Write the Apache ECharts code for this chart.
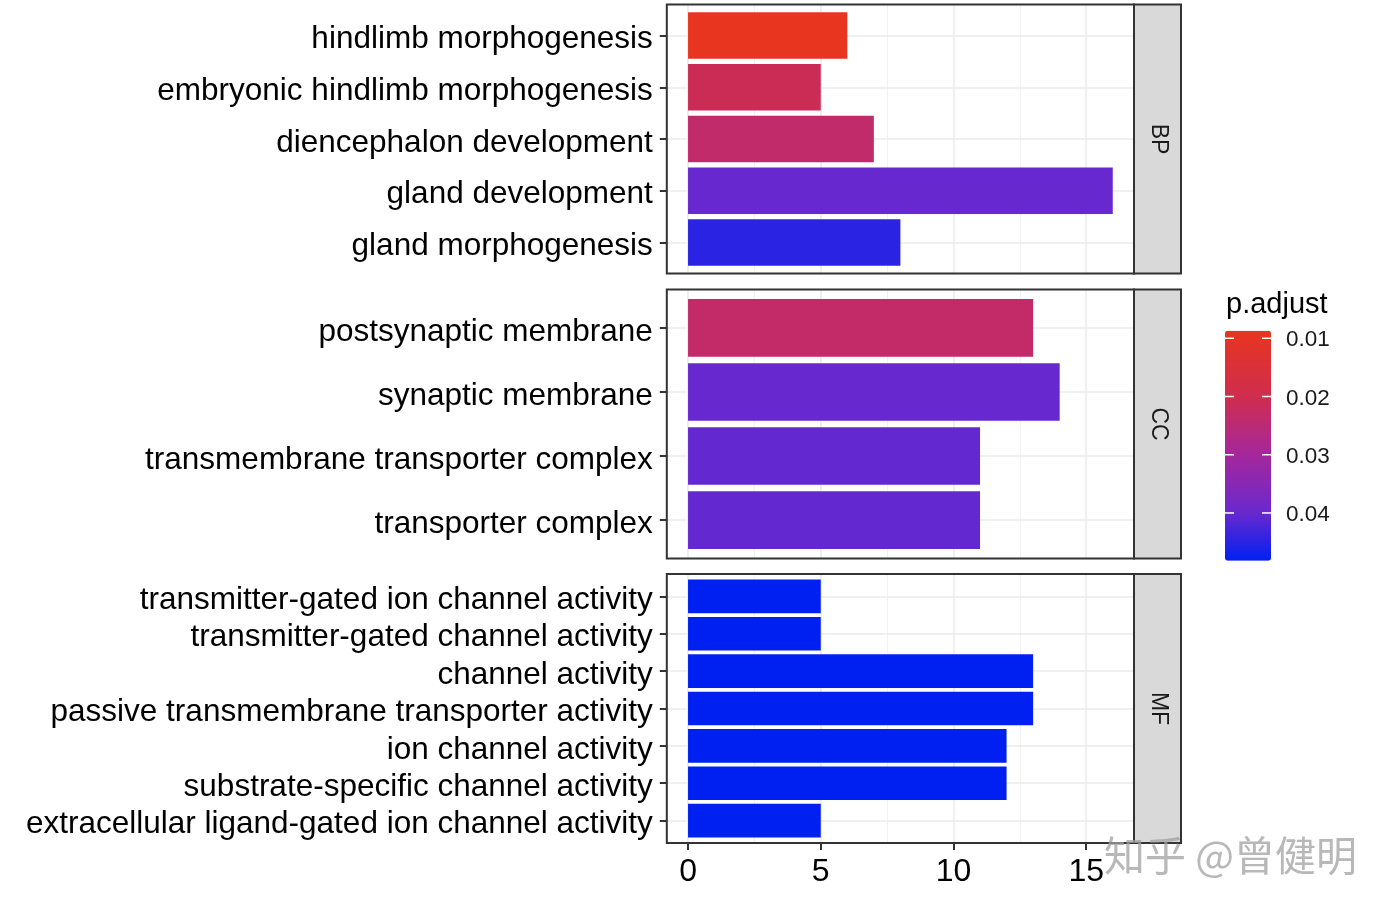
<!DOCTYPE html>
<html><head><meta charset="utf-8">
<script src="https://cdn.jsdelivr.net/npm/echarts@6/dist/echarts.min.js"></script>
<style>html,body{margin:0;padding:0;background:#fff}#c{width:1396px;height:912px}</style>
</head><body><div id="c"></div>
<script>
// ---------------- data ----------------
const facetNames = ['BP', 'CC', 'MF'];
const categoriesBP = ['hindlimb morphogenesis', 'embryonic hindlimb morphogenesis', 'diencephalon development', 'gland development', 'gland morphogenesis'];
const countsBP = [6, 5, 7, 16, 8];
const padjBP = [0.0087, 0.021, 0.0235, 0.0400, 0.0448];
const categoriesCC = ['postsynaptic membrane', 'synaptic membrane', 'transmembrane transporter complex', 'transporter complex'];
const countsCC = [13, 14, 11, 11];
const padjCC = [0.0232, 0.0400, 0.0404, 0.0404];
const categoriesMF = ['transmitter-gated ion channel activity', 'transmitter-gated channel activity', 'channel activity', 'passive transmembrane transporter activity', 'ion channel activity', 'substrate-specific channel activity', 'extracellular ligand-gated ion channel activity'];
const countsMF = [5, 5, 13, 13, 12, 12, 5];
const padjMF = [0.0482, 0.0482, 0.0482, 0.0482, 0.0482, 0.0482, 0.0482];
const xTickValues = [0, 5, 10, 15];
const xTickLabels = ['0', '5', '10', '15'];
const xGridMajor = [0, 5, 10, 15];
const xGridMinor = [2.5, 7.5, 12.5];
const legendTicks = [0.01, 0.02, 0.03, 0.04];
const legendTickLabels = ['0.01', '0.02', '0.03', '0.04'];
const legendTitle = 'p.adjust';
const pMin = 0.0087, pMax = 0.0482;
const xMin = -0.8, xMax = 16.8;

// ---------------- styles / layout ----------------
const colorAnchors = [[0.0087, '#E8351F'], [0.02, '#CF2D4E'], [0.03, '#A5279C'], [0.04, '#6928CF'], [0.0482, '#0020F2']];
function hex2rgb(h) { return [parseInt(h.substr(1, 2), 16), parseInt(h.substr(3, 2), 16), parseInt(h.substr(5, 2), 16)]; }
function colorAt(v) {
  for (let i = 0; i < colorAnchors.length - 1; i++) {
    const [v0, c0] = colorAnchors[i], [v1, c1] = colorAnchors[i + 1];
    if (v <= v1 || i === colorAnchors.length - 2) {
      const t = Math.max(0, Math.min(1, (v - v0) / (v1 - v0)));
      const a = hex2rgb(c0), b = hex2rgb(c1);
      return 'rgb(' + a.map((x, k) => Math.round(x + (b[k] - x) * t)).join(',') + ')';
    }
  }
}
const rampColors = [];
for (let i = 0; i <= 60; i++) rampColors.push(colorAt(pMin + (pMax - pMin) * i / 60));

const FONT = '"Liberation Sans", Arial, sans-serif';
const L = 666.8, R = 1134, SW = 47;
const tops = [4.5, 289.5, 574];
const H = 269;
const VM = { left: 1225, top: 330.7, w: 46, h: 230 };

const facets = [
  { cats: categoriesBP, counts: countsBP, padj: padjBP },
  { cats: categoriesCC, counts: countsCC, padj: padjCC },
  { cats: categoriesMF, counts: countsMF, padj: padjMF }
];

const grid = [], xAxis = [], yAxis = [], series = [], graphic = [];
const barSeriesIdx = [];
facets.forEach((f, i) => {
  const n = f.cats.length;
  const unit = H / (n + 0.2);
  const top = tops[i];
  const isBottom = i === facets.length - 1;
  grid.push({ left: L, top: top, width: R - L, height: H, show: true, backgroundColor: '#fff', borderWidth: 0, containLabel: false });
  grid.push({ left: L, top: top + 0.1 * unit, width: R - L, height: n * unit, show: false, containLabel: false });
  xAxis.push({
    type: 'value', gridIndex: 2 * i, min: xMin, max: xMax,
    axisLine: { show: false, onZero: false },
    splitLine: { show: false },
    axisTick: { show: isBottom, length: 7, lineStyle: { color: '#333', width: 2 }, customValues: xTickValues },
    axisLabel: { show: isBottom, customValues: xTickValues, formatter: v => xTickLabels[xTickValues.indexOf(v)] ?? String(v), color: '#000', fontSize: 32, fontFamily: FONT, margin: 13 }
  });
  xAxis.push({ type: 'value', gridIndex: 2 * i + 1, min: xMin, max: xMax, show: false, splitLine: { show: false } });
  yAxis.push({ type: 'value', gridIndex: 2 * i, min: 0, max: 1, show: false, splitLine: { show: false } });
  yAxis.push({
    type: 'category', gridIndex: 2 * i + 1, data: f.cats, inverse: true,
    axisLine: { show: false, onZero: false },
    axisTick: { show: true, alignWithLabel: true, length: 7, lineStyle: { color: '#333', width: 2 } },
    axisLabel: {
      interval: 0, margin: 14,
      formatter: v => '{t|' + v + '}',
      rich: { t: { color: '#000', fontSize: 31.5, fontFamily: FONT, padding: [8, 0, 0, 0] } }
    },
    splitLine: { show: false }
  });
  series.push({
    type: 'line', xAxisIndex: 2 * i, yAxisIndex: 2 * i, data: [[0, 0]], showSymbol: false, silent: true,
    lineStyle: { opacity: 0 }, z: 1,
    markLine: {
      silent: true, symbol: 'none', z: 1, animation: false, label: { show: false },
      data: xGridMajor.map(v => ({ xAxis: v, lineStyle: { color: '#EBEBEB', width: 1.6, type: 'solid' } }))
        .concat(xGridMinor.map(v => ({ xAxis: v, lineStyle: { color: '#F2F2F2', width: 1, type: 'solid' } })))
    }
  });
  series.push({
    type: 'line', xAxisIndex: 2 * i + 1, yAxisIndex: 2 * i + 1, data: [[0, 0]], showSymbol: false, silent: true,
    lineStyle: { opacity: 0 }, z: 1,
    markLine: {
      silent: true, symbol: 'none', z: 1, animation: false, label: { show: false },
      data: f.cats.map((c, j) => ({ yAxis: j, lineStyle: { color: '#EBEBEB', width: 1.6, type: 'solid' } }))
    }
  });
  barSeriesIdx.push(series.length);
  series.push({
    type: 'bar', name: facetNames[i], xAxisIndex: 2 * i + 1, yAxisIndex: 2 * i + 1,
    data: f.cats.map((c, j) => [f.counts[j], j, f.padj[j]]),
    encode: { x: 0, y: 1 }, barWidth: '90%', z: 3, animation: false
  });
  graphic.push({ type: 'rect', z: 50, silent: true, shape: { x: L, y: top, width: R - L, height: H }, style: { fill: 'none', stroke: '#333', lineWidth: 2 } });
  graphic.push({ type: 'rect', z: 50, silent: true, shape: { x: R, y: top, width: SW, height: H }, style: { fill: '#D9D9D9', stroke: '#333', lineWidth: 2 } });
  graphic.push({ type: 'text', z: 51, silent: true, x: R + SW / 2 + 1, y: top + H / 2, rotation: -Math.PI / 2, style: { text: facetNames[i], font: '23px ' + FONT, fill: '#1A1A1A', align: 'center', verticalAlign: 'middle' } });
});

graphic.push({ type: 'text', z: 51, silent: true, x: 1226, y: 305, style: { text: legendTitle, font: '29px ' + FONT, fill: '#000', align: 'left', verticalAlign: 'middle' } });
legendTicks.forEach((v, k) => {
  const y = VM.top + (v - pMin) / (pMax - pMin) * VM.h;
  graphic.push({ type: 'line', z: 60, silent: true, shape: { x1: VM.left, y1: y, x2: VM.left + 9, y2: y }, style: { stroke: '#fff', lineWidth: 1.5 } });
  graphic.push({ type: 'line', z: 60, silent: true, shape: { x1: VM.left + VM.w - 9, y1: y, x2: VM.left + VM.w, y2: y }, style: { stroke: '#fff', lineWidth: 1.5 } });
  graphic.push({ type: 'text', z: 60, silent: true, x: 1286, y: y + 2, style: { text: legendTickLabels[k], font: '22.5px ' + FONT, fill: '#1A1A1A', align: 'left', verticalAlign: 'middle' } });
});
graphic.push({ type: 'text', z: 100, silent: true, x: 1104, y: 855, style: { text: '知乎 @曾健明', font: '41px "Noto Sans CJK SC"', fill: 'rgba(160,160,160,0.75)', align: 'left', verticalAlign: 'middle' } });

const chart = echarts.init(document.getElementById('c'), null, { renderer: 'canvas' });
chart.setOption({
  animation: false,
  backgroundColor: '#fff',
  grid, xAxis, yAxis, series, graphic,
  visualMap: [{
    type: 'continuous', min: pMin, max: pMax, dimension: 2, seriesIndex: barSeriesIdx,
    inRange: { color: rampColors }, inverse: true, calculable: false, hoverLink: false,
    orient: 'vertical', left: VM.left, top: VM.top, itemWidth: VM.w, itemHeight: VM.h, padding: 0,
    text: null, showLabel: false
  }]
});
</script>
</body></html>
